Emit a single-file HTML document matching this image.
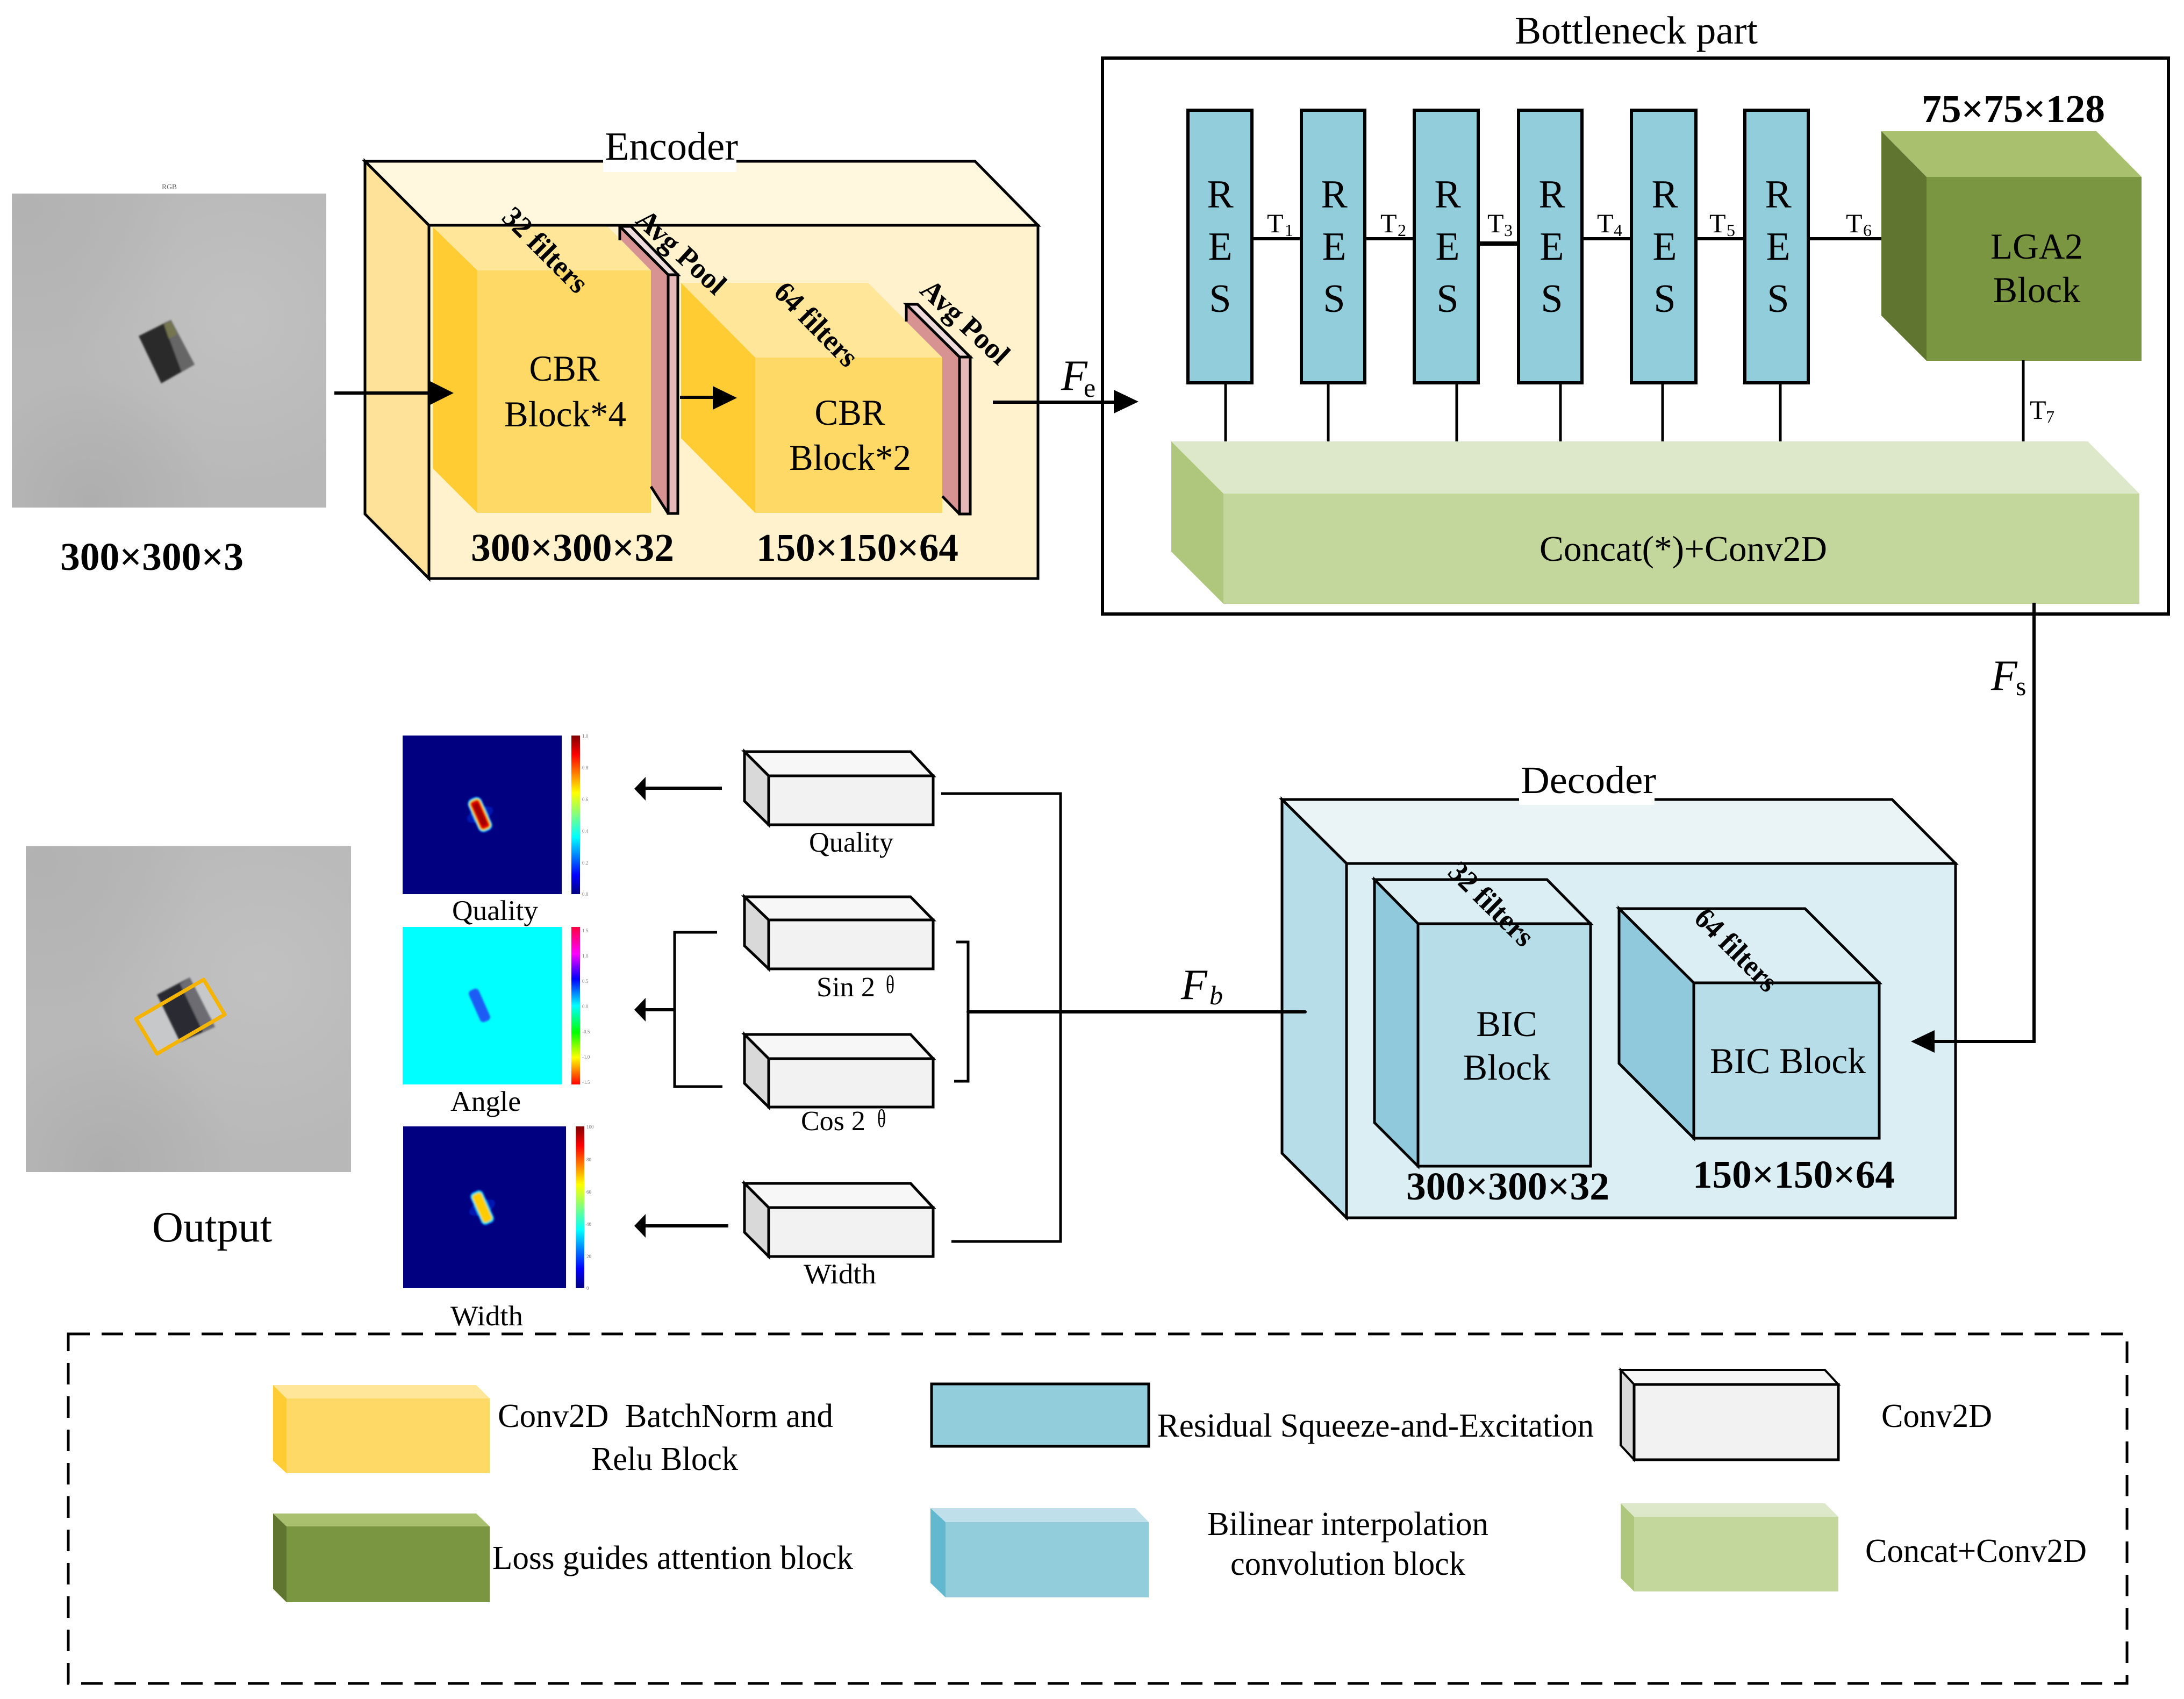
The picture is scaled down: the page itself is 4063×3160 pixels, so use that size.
<!DOCTYPE html>
<html><head><meta charset="utf-8"><style>html,body{margin:0;padding:0;background:#fff}svg{display:block}text{font-family:"Liberation Serif",serif;fill:#000}.b{font-weight:bold}.i{font-style:italic}</style></head><body>
<svg xmlns="http://www.w3.org/2000/svg" width="4063" height="3160" viewBox="0 0 4063 3160">
<defs>
<filter id="bl" x="-20%" y="-20%" width="140%" height="140%"><feGaussianBlur stdDeviation="8"/></filter>
<filter id="bs" x="-30%" y="-30%" width="160%" height="160%"><feGaussianBlur stdDeviation="1.6"/></filter>
<radialGradient id="lt" cx=".72" cy=".4" r=".55"><stop offset="0" stop-color="#c1c1c1"/><stop offset="1" stop-color="#c1c1c1" stop-opacity="0"/></radialGradient>
<radialGradient id="dk" cx=".25" cy=".98" r=".4"><stop offset="0" stop-color="#aeaeae"/><stop offset="1" stop-color="#aeaeae" stop-opacity="0"/></radialGradient>
<radialGradient id="dk2" cx=".05" cy=".05" r=".5"><stop offset="0" stop-color="#b2b2b2"/><stop offset="1" stop-color="#b2b2b2" stop-opacity="0"/></radialGradient>
<linearGradient id="jet" x1="0" y1="0" x2="0" y2="1"><stop offset="0" stop-color="#800000"/><stop offset=".12" stop-color="#f00"/><stop offset=".36" stop-color="#ff0"/><stop offset=".5" stop-color="#7fff7f"/><stop offset=".64" stop-color="#0ff"/><stop offset=".88" stop-color="#00f"/><stop offset="1" stop-color="#000080"/></linearGradient>
<linearGradient id="hsv" x1="0" y1="0" x2="0" y2="1"><stop offset="0" stop-color="#ff0040"/><stop offset=".17" stop-color="#f0f"/><stop offset=".33" stop-color="#00f"/><stop offset=".5" stop-color="#0ff"/><stop offset=".67" stop-color="#0f0"/><stop offset=".83" stop-color="#ff0"/><stop offset="1" stop-color="#f00"/></linearGradient>
</defs>

<!-- input image -->
<text x="301" y="352" font-size="14" style="fill:#666" textLength="28" lengthAdjust="spacingAndGlyphs">RGB</text>
<rect x="22" y="360" width="585" height="584" fill="#b8b8b8"/><rect x="22" y="360" width="585" height="584" fill="url(#lt)"/><rect x="22" y="360" width="585" height="584" fill="url(#dk)"/><rect x="22" y="360" width="585" height="584" fill="url(#dk2)"/>
<g filter="url(#bs)"><polygon points="318,595 362,678 300,713 258,625" fill="#2b2b2b"/><polygon points="305,603 318,595 362,678 338,692" fill="#666"/><polygon points="305,603 318,597 330,622 314,630" fill="#75754f"/></g>
<text x="112" y="1060" class="b" font-size="73" textLength="341" lengthAdjust="spacingAndGlyphs">300×300×3</text>

<!-- encoder -->
<polygon points="679,300 1814,300 1931,419 798,419" fill="#FFF7DE" stroke="#000" stroke-width="5"/>
<polygon points="679,300 798,419 798,1076 679,956" fill="#FFE29A" stroke="#000" stroke-width="5"/>
<rect x="798" y="419" width="1133" height="657" fill="#FFF2CC" stroke="#000" stroke-width="5"/>
<rect x="1122" y="290" width="248" height="30" fill="#fff"/>
<text x="1125" y="297" font-size="74" textLength="248" lengthAdjust="spacingAndGlyphs">Encoder</text>
<!-- block 1 -->
<polygon points="805,422 1131,422 1211,503 888,503" fill="#FFE699"/>
<polygon points="805,422 888,503 888,954 805,871" fill="#FFCC33"/>
<rect x="888" y="503" width="323" height="451" fill="#FFD966"/>
<!-- avg 1 -->
<polygon points="1154,422 1243,511 1243,955 1211,905 1211,503 1154,445" fill="#D79391"/>
<polygon points="1153,421 1174,421 1261,511 1243,511" fill="#EEDCDC" stroke="#000" stroke-width="5"/>
<line x1="1153" y1="421" x2="1153" y2="447" stroke="#000" stroke-width="5"/>
<rect x="1243" y="511" width="18" height="444" fill="#E6B9B8" stroke="#000" stroke-width="5"/>
<line x1="1211" y1="905" x2="1243" y2="955" stroke="#000" stroke-width="5"/>
<!-- block 2 -->
<polygon points="1267,526 1615,526 1753,665 1405,665" fill="#FFE699"/>
<polygon points="1267,526 1405,665 1405,954 1267,815" fill="#FFCC33"/>
<rect x="1405" y="665" width="348" height="289" fill="#FFD966"/>
<!-- avg 2 -->
<polygon points="1686,566 1785,664 1785,956 1753,923 1753,665 1686,598" fill="#D79391"/>
<polygon points="1686,566 1707,566 1805,664 1785,664" fill="#EEDCDC" stroke="#000" stroke-width="5"/>
<line x1="1686" y1="566" x2="1686" y2="598" stroke="#000" stroke-width="5"/>
<rect x="1785" y="664" width="20" height="292" fill="#E6B9B8" stroke="#000" stroke-width="5"/>
<line x1="1753" y1="923" x2="1785" y2="956" stroke="#000" stroke-width="5"/>

<text x="1050" y="708" font-size="68" text-anchor="middle" textLength="131" lengthAdjust="spacingAndGlyphs">CBR</text>
<text x="938" y="793" font-size="68" textLength="227" lengthAdjust="spacingAndGlyphs">Block*4</text>
<text x="1581" y="790" font-size="68" text-anchor="middle" textLength="131" lengthAdjust="spacingAndGlyphs">CBR</text>
<text x="1468" y="874" font-size="68" textLength="227" lengthAdjust="spacingAndGlyphs">Block*2</text>
<text x="876" y="1043" class="b" font-size="73" textLength="378" lengthAdjust="spacingAndGlyphs">300×300×32</text>
<text x="1407" y="1043" class="b" font-size="73" textLength="376" lengthAdjust="spacingAndGlyphs">150×150×64</text>
<text transform="translate(931,407) rotate(45)" class="b" font-size="55" textLength="200" lengthAdjust="spacingAndGlyphs">32 filters</text>
<text transform="translate(1180,413) rotate(42.5)" class="b" font-size="55" textLength="204" lengthAdjust="spacingAndGlyphs">Avg Pool</text>
<text transform="translate(1437,546) rotate(45.5)" class="b" font-size="55" textLength="196" lengthAdjust="spacingAndGlyphs">64 filters</text>
<text transform="translate(1709,543) rotate(43)" class="b" font-size="55" textLength="203" lengthAdjust="spacingAndGlyphs">Avg Pool</text>

<!-- encoder arrows -->
<line x1="622" y1="731" x2="810" y2="731" stroke="#000" stroke-width="6"/>
<polygon points="800,709 844,731 800,753" fill="#000"/>
<line x1="1265" y1="739" x2="1330" y2="739" stroke="#000" stroke-width="6"/>
<polygon points="1326,718 1371,740 1326,762" fill="#000"/>
<text x="1974" y="725" class="i" font-size="80">F</text>
<text x="2016" y="738" font-size="50">e</text>

<!-- bottleneck -->
<rect x="2051" y="108" width="1983" height="1034" fill="#fff" stroke="#000" stroke-width="6"/>
<line x1="1847" y1="748" x2="2080" y2="748" stroke="#000" stroke-width="6"/>
<polygon points="2072,725 2118,747 2072,769" fill="#000"/>
<text x="2818" y="81" font-size="73" textLength="452" lengthAdjust="spacingAndGlyphs">Bottleneck part</text>
<g stroke="#000" stroke-width="6">
<line x1="2329" y1="444" x2="2420" y2="444"/><line x1="2539" y1="444" x2="2630" y2="444"/><line x1="2750" y1="453" x2="2824" y2="453" stroke-width="8"/><line x1="2943" y1="444" x2="3034" y2="444"/><line x1="3155" y1="444" x2="3245" y2="444"/><line x1="3364" y1="444" x2="3505" y2="444"/>
</g>
<g fill="#92CDDC" stroke="#000" stroke-width="6">
<rect x="2210" y="205" width="119" height="507"/><rect x="2421" y="205" width="118" height="507"/><rect x="2631" y="205" width="119" height="507"/><rect x="2825" y="205" width="118" height="507"/><rect x="3035" y="205" width="120" height="507"/><rect x="3246" y="205" width="118" height="507"/>
</g>
<g font-size="74" text-anchor="middle">
<text x="2270" y="386">R</text><text x="2270" y="483">E</text><text x="2270" y="580">S</text>
<text x="2482" y="386">R</text><text x="2482" y="483">E</text><text x="2482" y="580">S</text>
<text x="2693" y="386">R</text><text x="2693" y="483">E</text><text x="2693" y="580">S</text>
<text x="2887" y="386">R</text><text x="2887" y="483">E</text><text x="2887" y="580">S</text>
<text x="3097" y="386">R</text><text x="3097" y="483">E</text><text x="3097" y="580">S</text>
<text x="3308" y="386">R</text><text x="3308" y="483">E</text><text x="3308" y="580">S</text>
</g>
<g font-size="50">
<text x="2357" y="432">T</text><text x="2390" y="439" font-size="32">1</text>
<text x="2568" y="432">T</text><text x="2600" y="439" font-size="32">2</text>
<text x="2767" y="432">T</text><text x="2798" y="439" font-size="32">3</text>
<text x="2971" y="432">T</text><text x="3002" y="439" font-size="32">4</text>
<text x="3180" y="432">T</text><text x="3212" y="439" font-size="32">5</text>
<text x="3434" y="432">T</text><text x="3466" y="439" font-size="32">6</text>
<text x="3776" y="779">T</text><text x="3806" y="786" font-size="32">7</text>
</g>
<!-- LGA -->
<polygon points="3500,244 3900,244 3984,329 3584,329" fill="#A9C16E"/>
<polygon points="3500,244 3584,329 3584,671 3500,587" fill="#5F7530"/>
<rect x="3584" y="329" width="400" height="342" fill="#7A9640"/>
<text x="3789" y="481" font-size="68" text-anchor="middle" textLength="172" lengthAdjust="spacingAndGlyphs">LGA2</text>
<text x="3789" y="562" font-size="68" text-anchor="middle">Block</text>
<text x="3575" y="227" class="b" font-size="73" textLength="341" lengthAdjust="spacingAndGlyphs">75×75×128</text>
<g stroke="#000" stroke-width="5">
<line x1="2280" y1="711" x2="2280" y2="824"/><line x1="2471" y1="711" x2="2471" y2="824"/><line x1="2710" y1="711" x2="2710" y2="824"/><line x1="2903" y1="711" x2="2903" y2="824"/><line x1="3093" y1="711" x2="3093" y2="824"/><line x1="3312" y1="711" x2="3312" y2="824"/><line x1="3764" y1="670" x2="3764" y2="824"/>
</g>
<!-- concat -->
<polygon points="2179,821 3884,821 3980,918 2276,918" fill="#DDE8CB"/>
<polygon points="2179,821 2276,918 2276,1123 2179,1026" fill="#AFC67D"/>
<rect x="2276" y="918" width="1704" height="205" fill="#C3D69B"/>
<text x="2864" y="1043" font-size="67" textLength="535" lengthAdjust="spacingAndGlyphs">Concat(*)+Conv2D</text>
<text x="3704" y="1283" class="i" font-size="80">F</text>
<text x="3750" y="1293" font-size="50">s</text>

<!-- decoder -->
<polygon points="2385,1487 3520,1487 3638,1606 2505,1606" fill="#EAF4F7" stroke="#000" stroke-width="5"/>
<polygon points="2385,1487 2505,1606 2505,2265 2385,2145" fill="#B7DDE8" stroke="#000" stroke-width="5"/>
<rect x="2505" y="1606" width="1133" height="659" fill="#DAEEF3" stroke="#000" stroke-width="5"/>
<rect x="2826" y="1465" width="252" height="32" fill="#fff"/>
<text x="2829" y="1475" font-size="72" textLength="252" lengthAdjust="spacingAndGlyphs">Decoder</text>
<g stroke="#000" stroke-width="5">
<polygon points="2557,1636 2878,1636 2959,1718 2638,1718" fill="#DAEEF3"/>
<polygon points="2557,1636 2638,1718 2638,2169 2557,2088" fill="#8FC9DB"/>
<rect x="2638" y="1718" width="321" height="451" fill="#B7DDE8"/>
<polygon points="3012,1690 3358,1690 3496,1828 3151,1828" fill="#DAEEF3"/>
<polygon points="3012,1690 3151,1828 3151,2117 3012,1978" fill="#8FC9DB"/>
<rect x="3151" y="1828" width="345" height="289" fill="#B7DDE8"/>
</g>
<text x="2803" y="1927" font-size="68" text-anchor="middle">BIC</text>
<text x="2803" y="2008" font-size="68" text-anchor="middle">Block</text>
<text x="3181" y="1996" font-size="68" textLength="290" lengthAdjust="spacingAndGlyphs">BIC Block</text>
<text x="2616" y="2231" class="b" font-size="73" textLength="378" lengthAdjust="spacingAndGlyphs">300×300×32</text>
<text x="3149" y="2209" class="b" font-size="73" textLength="376" lengthAdjust="spacingAndGlyphs">150×150×64</text>
<text transform="translate(2691,1625) rotate(44.5)" class="b" font-size="55" textLength="198" lengthAdjust="spacingAndGlyphs">32 filters</text>
<text transform="translate(3149,1711) rotate(45)" class="b" font-size="55" textLength="194" lengthAdjust="spacingAndGlyphs">64 filters</text>

<!-- Fs line -->
<polyline points="3784,1121 3784,1937 3595,1937" fill="none" stroke="#000" stroke-width="6"/>
<polygon points="3599,1916 3555,1937 3599,1958" fill="#000"/>

<!-- Fb -->
<line x1="1801" y1="1882" x2="2428" y2="1882" stroke="#000" stroke-width="6" stroke-linecap="round"/>
<text x="2197" y="1858" class="i" font-size="80">F</text>
<text x="2250" y="1868" class="i" font-size="50">b</text>

<!-- conv boxes -->
<g stroke="#000" stroke-width="5">
<polygon points="1385,1398 1694,1398 1736,1443 1430,1443" fill="#F7F7F7"/><polygon points="1385,1398 1430,1443 1430,1534 1385,1490" fill="#D9D9D9"/><rect x="1430" y="1443" width="306" height="91" fill="#F2F2F2"/>
<polygon points="1385,1668 1694,1668 1736,1711 1430,1711" fill="#F7F7F7"/><polygon points="1385,1668 1430,1711 1430,1802 1385,1759" fill="#D9D9D9"/><rect x="1430" y="1711" width="306" height="91" fill="#F2F2F2"/>
<polygon points="1385,1924 1694,1924 1736,1969 1430,1969" fill="#F7F7F7"/><polygon points="1385,1924 1430,1969 1430,2059 1385,2015" fill="#D9D9D9"/><rect x="1430" y="1969" width="306" height="90" fill="#F2F2F2"/>
<polygon points="1385,2201 1694,2201 1736,2246 1430,2246" fill="#F7F7F7"/><polygon points="1385,2201 1430,2246 1430,2337 1385,2292" fill="#D9D9D9"/><rect x="1430" y="2246" width="306" height="91" fill="#F2F2F2"/>
</g>
<text x="1505" y="1584" font-size="53" textLength="157" lengthAdjust="spacingAndGlyphs">Quality</text>
<text x="1519" y="1853" font-size="52" textLength="109" lengthAdjust="spacingAndGlyphs">Sin 2</text><text x="1648" y="1847" font-size="47" textLength="16" lengthAdjust="spacingAndGlyphs">θ</text>
<text x="1490" y="2102" font-size="52">Cos 2</text><text x="1632" y="2096" font-size="47" textLength="16" lengthAdjust="spacingAndGlyphs">θ</text>
<text x="1495" y="2387" font-size="53" textLength="135" lengthAdjust="spacingAndGlyphs">Width</text>
<g fill="none" stroke="#000" stroke-width="5">
<polyline points="1751,1476 1973,1476 1973,2309 1770,2309"/>
<polyline points="1779,1752 1801,1752 1801,2011 1775,2011"/>
<polyline points="1334,1734 1255,1734 1255,2021 1344,2021"/>
</g>
<g stroke="#000" stroke-width="6"><line x1="1195" y1="1466" x2="1343" y2="1466"/><line x1="1195" y1="1878" x2="1255" y2="1878"/><line x1="1195" y1="2280" x2="1355" y2="2280"/></g>
<polygon points="1180,1467 1201,1445 1201,1489" fill="#000"/>
<polygon points="1180,1878 1201,1856 1201,1900" fill="#000"/>
<polygon points="1180,2280 1201,2258 1201,2302" fill="#000"/>

<!-- heatmaps -->
<text x="841" y="1711" font-size="53" textLength="160" lengthAdjust="spacingAndGlyphs">Quality</text>
<rect x="749" y="1368" width="296" height="295" fill="#000080"/>
<rect x="1063" y="1368" width="16" height="295" fill="url(#jet)"/>
<g transform="translate(893,1515) rotate(-24)" filter="url(#bs)">
<ellipse cx="0" cy="0" rx="26" ry="12" fill="#0018b0"/>
<rect x="-14" y="-34" width="28" height="68" rx="11" fill="#0060ff"/>
<rect x="-12.5" y="-32" width="25" height="64" rx="9" fill="#20e0d0"/>
<rect x="-11" y="-30" width="22" height="60" rx="8" fill="#ffd000"/>
<rect x="-9" y="-28" width="18" height="56" rx="6" fill="#e00000"/>
<rect x="-5" y="-22" width="10" height="44" rx="4" fill="#a00000"/>
</g>
<rect x="749" y="1724" width="296" height="293" fill="#00FFFF"/>
<rect x="1063" y="1724" width="16" height="293" fill="url(#hsv)"/>
<g transform="translate(892,1870) rotate(-24)" filter="url(#bs)">
<rect x="-10" y="-32" width="20" height="64" rx="7" fill="#1a5cf5"/>
</g>
<rect x="750" y="2095" width="303" height="301" fill="#000080"/>
<rect x="1071" y="2095" width="16" height="301" fill="url(#jet)"/>
<g transform="translate(897,2246) rotate(-24)" filter="url(#bs)">
<ellipse cx="0" cy="0" rx="26" ry="12" fill="#0018b0"/>
<rect x="-13" y="-33" width="26" height="66" rx="9" fill="#0060ff"/>
<rect x="-11.5" y="-31" width="23" height="62" rx="7" fill="#20e0d0"/>
<rect x="-9" y="-28" width="18" height="56" rx="5" fill="#ffcc00"/>
</g>
<g font-size="9" text-anchor="start">
<text x="1083" y="1372" style="fill:#777">1.0</text><text x="1083" y="1431" style="fill:#777">0.8</text><text x="1083" y="1490" style="fill:#777">0.6</text><text x="1083" y="1549" style="fill:#777">0.4</text><text x="1083" y="1608" style="fill:#777">0.2</text><text x="1083" y="1666" style="fill:#777">0.0</text>
<text x="1083" y="1734" style="fill:#777">1.5</text><text x="1083" y="1781" style="fill:#777">1.0</text><text x="1083" y="1828" style="fill:#777">0.5</text><text x="1083" y="1875" style="fill:#777">0.0</text><text x="1083" y="1922" style="fill:#777">-0.5</text><text x="1083" y="1969" style="fill:#777">-1.0</text><text x="1083" y="2016" style="fill:#777">-1.5</text>
<text x="1091" y="2099" style="fill:#777">100</text><text x="1091" y="2160" style="fill:#777">80</text><text x="1091" y="2220" style="fill:#777">60</text><text x="1091" y="2280" style="fill:#777">40</text><text x="1091" y="2340" style="fill:#777">20</text><text x="1091" y="2399" style="fill:#777">0</text>
</g>
<text x="838" y="2066" font-size="53" textLength="131" lengthAdjust="spacingAndGlyphs">Angle</text>
<text x="838" y="2465" font-size="53" textLength="135" lengthAdjust="spacingAndGlyphs">Width</text>

<!-- output image -->
<rect x="48" y="1574" width="605" height="606" fill="#b8b8b8"/><rect x="48" y="1574" width="605" height="606" fill="url(#lt)"/><rect x="48" y="1574" width="605" height="606" fill="url(#dk)"/><rect x="48" y="1574" width="605" height="606" fill="url(#dk2)"/>
<polygon points="253,1895 379,1822 418,1887 292,1960" fill="#c6c8ca" filter="url(#bs)"/>
<g filter="url(#bs)"><polygon points="353,1818 400,1910 335,1938 292,1850" fill="#2a2c30"/><polygon points="335,1830 353,1818 400,1910 378,1920" fill="#6c6c72"/></g>
<polygon points="253,1895 379,1822 418,1887 292,1960" fill="none" stroke="#F5B400" stroke-width="7" stroke-linejoin="round"/>
<text x="283" y="2309" font-size="80" textLength="223" lengthAdjust="spacingAndGlyphs">Output</text>

<!-- legend -->
<rect x="127" y="2481" width="3830" height="650" fill="none" stroke="#000" stroke-width="5" stroke-dasharray="40 22"/>
<polygon points="508,2576 886,2576 911,2601 533,2601" fill="#FFE699"/><polygon points="508,2576 533,2601 533,2740 508,2717" fill="#FFCC33"/><rect x="533" y="2601" width="378" height="139" fill="#FFD966"/>
<polygon points="508,2815 886,2815 911,2839 533,2839" fill="#A9C16E"/><polygon points="508,2815 533,2839 533,2980 508,2955" fill="#5F7530"/><rect x="533" y="2839" width="378" height="141" fill="#7A9640"/>
<rect x="1733" y="2574" width="404" height="116" fill="#92CDDC" stroke="#000" stroke-width="5"/>
<polygon points="3015,2548 3395,2548 3420,2575 3040,2575" fill="#F7F7F7" stroke="#000" stroke-width="4"/><polygon points="3015,2548 3040,2575 3040,2715 3015,2688" fill="#D9D9D9" stroke="#000" stroke-width="4"/><rect x="3040" y="2575" width="380" height="140" fill="#F2F2F2" stroke="#000" stroke-width="5"/>
<polygon points="1731,2805 2112,2805 2137,2831 1759,2831" fill="#BFE0EA"/><polygon points="1731,2805 1759,2831 1759,2971 1731,2944" fill="#61B8CF"/><rect x="1759" y="2831" width="378" height="140" fill="#92CDDC"/>
<polygon points="3015,2796 3395,2796 3420,2821 3040,2821" fill="#DDE8CB"/><polygon points="3015,2796 3040,2821 3040,2960 3015,2935" fill="#AFC67D"/><rect x="3040" y="2821" width="380" height="139" fill="#C3D69B"/>
<g font-size="62">
<text x="926" y="2654" textLength="624" lengthAdjust="spacingAndGlyphs" xml:space="preserve">Conv2D  BatchNorm and</text>
<text x="1100" y="2734" textLength="273" lengthAdjust="spacingAndGlyphs">Relu Block</text>
<text x="2153" y="2672" textLength="812" lengthAdjust="spacingAndGlyphs">Residual Squeeze-and-Excitation</text>
<text x="3500" y="2654" textLength="206" lengthAdjust="spacingAndGlyphs">Conv2D</text>
<text x="916" y="2918" textLength="671" lengthAdjust="spacingAndGlyphs">Loss guides attention block</text>
<text x="2246" y="2855" textLength="523" lengthAdjust="spacingAndGlyphs">Bilinear interpolation</text>
<text x="2289" y="2929" textLength="437" lengthAdjust="spacingAndGlyphs">convolution block</text>
<text x="3470" y="2905" textLength="412" lengthAdjust="spacingAndGlyphs">Concat+Conv2D</text>
</g>
</svg>
</body></html>
